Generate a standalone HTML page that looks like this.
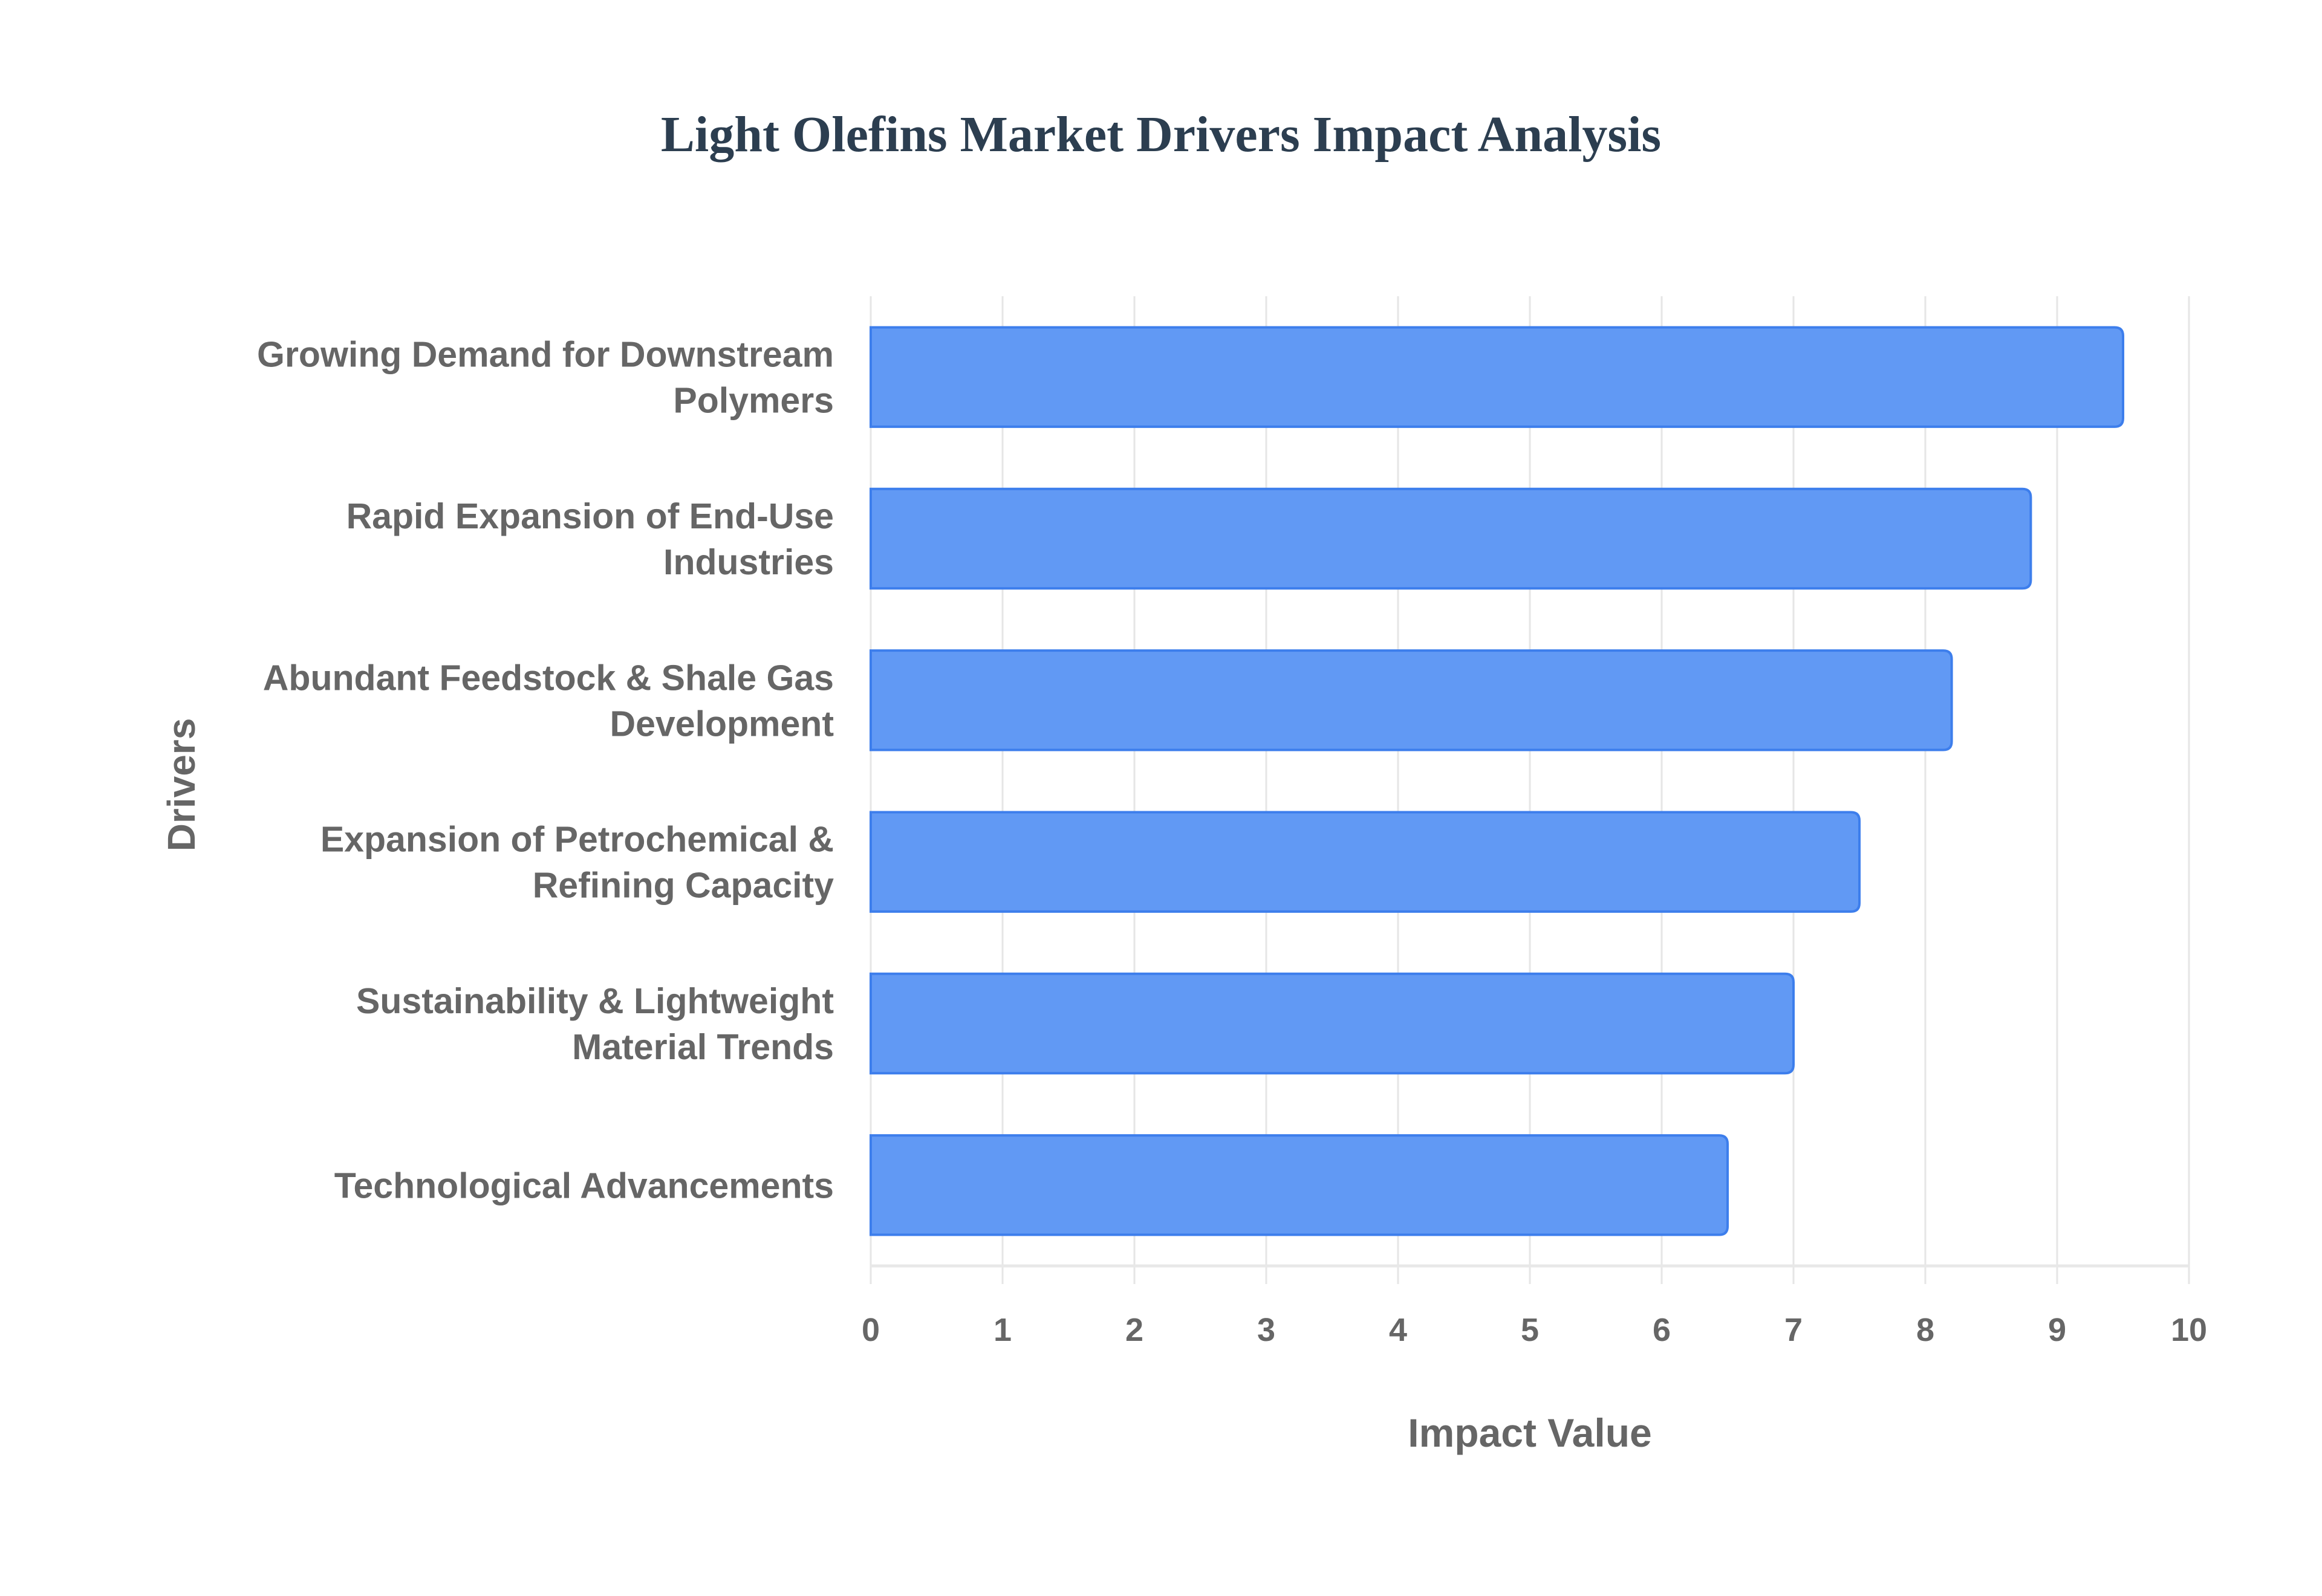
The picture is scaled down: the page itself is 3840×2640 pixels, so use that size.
<!DOCTYPE html>
<html><head><meta charset="utf-8"><style>
html,body{margin:0;padding:0;background:#fff;}
svg{display:block;}
text{font-family:"Liberation Sans",sans-serif;font-weight:bold;}
</style></head>
<body>
<svg id="chart" width="3840" height="2640" viewBox="0 0 3840 2640" xmlns="http://www.w3.org/2000/svg">
<rect width="3840" height="2640" fill="#fff"/>
<text x="1920" y="250" text-anchor="middle" style="font-family:'Liberation Serif',serif;font-size:84px;fill:#2c3e50;">Light Olefins Market Drivers Impact Analysis</text>
<g id="grid"></g><g id="bars"></g><g id="ylabels"></g><g id="xticks"></g>
<text x="2530" y="2393" text-anchor="middle" style="font-size:66px;fill:#666;">Impact Value</text>
<text transform="translate(322,1298) rotate(-90)" text-anchor="middle" style="font-size:64px;fill:#666;">Drivers</text>
</svg>
<script>
const categories = [
  ["Growing Demand for Downstream","Polymers"],
  ["Rapid Expansion of End-Use","Industries"],
  ["Abundant Feedstock & Shale Gas","Development"],
  ["Expansion of Petrochemical &","Refining Capacity"],
  ["Sustainability & Lightweight","Material Trends"],
  ["Technological Advancements"]
];
const values = [9.5, 8.8, 8.2, 7.5, 7.0, 6.5];
const xTicks = [0,1,2,3,4,5,6,7,8,9,10];

const NS = "http://www.w3.org/2000/svg";
const X0 = 1440, X1 = 3620, Y0 = 490, Y1 = 2094;
const xs = v => X0 + (v - 0) / (10 - 0) * (X1 - X0);
const band = (Y1 - Y0) / categories.length;
const yc = i => Y0 + band * (i + 0.5);
const barH = band * 0.615;
function mk(tag, attrs, parent) {
  const el = document.createElementNS(NS, tag);
  for (const k in attrs) el.setAttribute(k, attrs[k]);
  parent.appendChild(el);
  return el;
}
const grid = document.getElementById('grid');
xTicks.forEach((t) => {
  const l = mk('line', {x1: xs(t), x2: xs(t), y1: Y0, y2: Y1 + 30, stroke: '#e6e6e6', 'stroke-width': 3}, grid);
  
  
  const tx = mk('text', {x: xs(t), y: 2218, 'text-anchor': 'middle', style: 'font-size:54px;fill:#666;'}, document.getElementById('xticks'));
  tx.textContent = t;
  
  
});
const base = mk('line', {x1: X0, x2: X1, y1: Y1, y2: Y1, stroke: '#e8e8e8', 'stroke-width': 5}, grid);



const bars = document.getElementById('bars');
const yl = document.getElementById('ylabels');
values.forEach((v, i) => {
  const w = xs(v) - X0;
  const y = yc(i) - barH / 2;
  const r = 14;
  const d = `M${X0},${y} H${X0 + w - r} Q${X0 + w},${y} ${X0 + w},${y + r} V${y + barH - r} Q${X0 + w},${y + barH} ${X0 + w - r},${y + barH} H${X0} Z`;
  const p = mk('path', {d: d, fill: '#6199f4', stroke: '#3d7eec', 'stroke-width': 4}, bars);
  
  
  const lines = categories[i];
  const lh = 76;
  lines.forEach((s, j) => {
    const t = mk('text', {x: 1379, y: yc(i) + (j - (lines.length - 1) / 2) * lh + 21, 'text-anchor': 'end', style: 'font-size:59px;fill:#666;'}, yl);
    t.textContent = s;
    
    
  });
});
</script>
</body></html>
